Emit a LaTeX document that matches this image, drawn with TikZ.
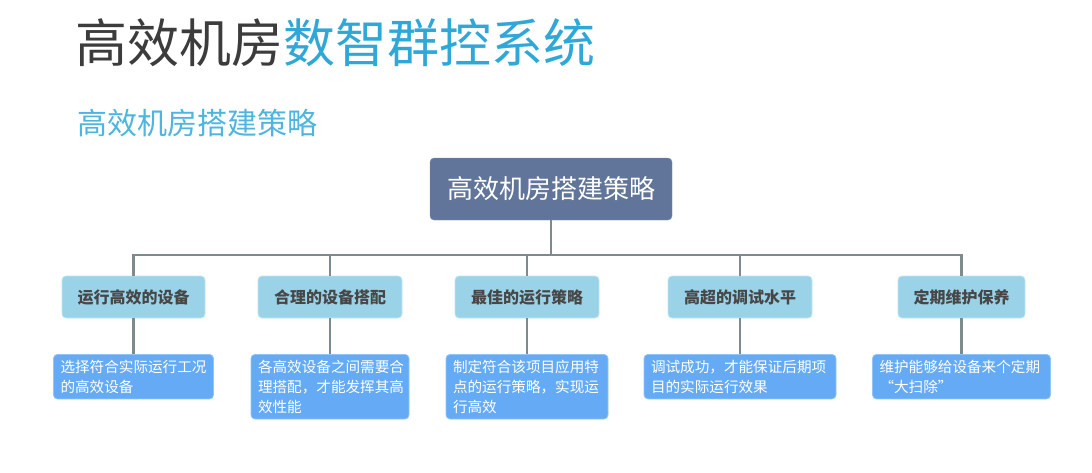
\documentclass[tikz,border=0pt]{standalone}
\usepackage{fontspec}
\setmainfont{Noto Sans CJK SC}

\definecolor{titledark}{HTML}{3C3C3C}
\definecolor{titleblue}{HTML}{2FA8D8}
\definecolor{subblue}{HTML}{4DB5DF}
\definecolor{rootfill}{HTML}{607599}
\definecolor{itemfill}{HTML}{9AD3E8}
\definecolor{itemline}{HTML}{BDE4F2}
\definecolor{itemtext}{HTML}{474747}
\definecolor{notefill}{HTML}{64AAF5}
\definecolor{noteline}{HTML}{93C4F7}
\definecolor{linkgray}{HTML}{7E8B8C}

\begin{document}
\begin{tikzpicture}[x=1pt, y=1pt,
  link/.style={draw=linkgray, line width=2.2pt},
  rootbox/.style={fill=rootfill, draw=rootfill!80!white, rounded corners=4pt,
    minimum width=242, minimum height=62, text=white,
    font=\fontsize{26}{30}\selectfont},
  itembox/.style={fill=itemfill, draw=itemline, line width=0.8pt, rounded corners=4pt,
    minimum height=42, text=itemtext, font=\fontsize{16}{20}\selectfont\bfseries},
  notebox/.style={fill=notefill, draw=noteline, line width=0.8pt, rounded corners=4pt,
    anchor=north, align=left, inner xsep=7pt, inner ysep=5.5pt, text=white,
    font=\fontsize{14.6}{20}\selectfont}]

  \useasboundingbox (0,0) rectangle (1092,-472);

  % Headings
  \node[anchor=west, inner sep=0, font=\fontsize{52}{60}\selectfont] (title) at (75,-43)
    {\textcolor{titledark}{高效机房}\textcolor{titleblue}{数智群控系统}};
  \node[anchor=west, inner sep=0, text=subblue, font=\fontsize{30}{36}\selectfont] (subtitle)
    at (77,-123) {高效机房搭建策略};

  % Root box
  \node[rootbox] (root) at (551,-189) {高效机房搭建策略};

  % Second row
  \node[itembox, minimum width=143] (item1) at (133.5,-297) {运行高效的设备};
  \node[itembox, minimum width=144] (item2) at (330,-297)   {合理的设备搭配};
  \node[itembox, minimum width=144] (item3) at (527,-297)   {最佳的运行策略};
  \node[itembox, minimum width=144] (item4) at (740,-297)   {高超的调试水平};
  \node[itembox, minimum width=127] (item5) at (961.5,-297) {定期维护保养};

  % Third row
  \node[notebox, text width=146] (note1) at (133.5,-354)
    {选择符合实际运行工况\\的高效设备};
  \node[notebox, text width=144] (note2) at (330,-354)
    {各高效设备之间需要合\\理搭配，才能发挥其高\\效性能};
  \node[notebox, text width=148] (note3) at (527,-354)
    {制定符合该项目应用特\\点的运行策略，实现运\\行高效};
  \node[notebox, text width=178] (note4) at (740,-354)
    {调试成功，才能保证后期项\\目的实际运行效果};
  \node[notebox, text width=164] (note5) at (961.5,-354)
    {维护能够给设备来个定期\\“大扫除”};

  % Connectors
  \foreach \i in {1,...,5}{
    \draw[link] (root.south) -- ++(0,-35) -| (item\i.north);
    \draw[link] (item\i.south) -- (note\i.north);
  }

\end{tikzpicture}
\end{document}
